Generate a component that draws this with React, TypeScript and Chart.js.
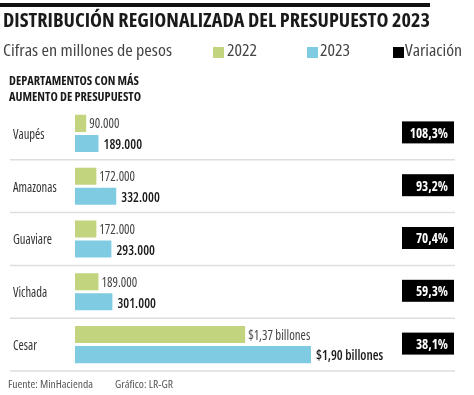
import React, { useEffect, useLayoutEffect, useRef } from "react";
import { Chart, registerables } from "chart.js";

Chart.register(...registerables);

const categories = ["Vaupés", "Amazonas", "Guaviare", "Vichada", "Cesar"];
const values2022 = [90000, 172000, 172000, 189000, 1370000];
const values2023 = [189000, 332000, 293000, 301000, 1900000];
const labels2022 = ["90.000", "172.000", "172.000", "189.000", "$1,37 billones"];
const labels2023 = ["189.000", "332.000", "293.000", "301.000", "$1,90 billones"];
const variation = ["108,3%", "93,2%", "70,4%", "59,3%", "38,1%"];
const xMax = 2000000;

const GREEN = "#c2d47e";
const CYAN = "#7ecbe2";
const FAMILY = "'Open Sans', 'Noto Sans', sans-serif";

type TxtProps = {
  x: number;
  base: number;
  size: number;
  weight?: number;
  stretch?: string;
  color?: string;
  width?: number;
  children: React.ReactNode;
};

function Txt({ x, base, size, weight = 400, stretch = "75%", color = "#222", width, children }: TxtProps) {
  const ref = useRef<HTMLSpanElement>(null);
  useLayoutEffect(() => {
    const el = ref.current;
    if (!el || !width) return;
    el.style.transform = "none";
    const w = el.getBoundingClientRect().width;
    if (w > 0) el.style.transform = `scaleX(${width / w})`;
  }, [width, children]);
  return (
    <span
      ref={ref}
      style={{
        position: "absolute",
        left: x,
        top: base - 1.069 * size,
        fontFamily: FAMILY,
        fontSize: size,
        lineHeight: 1.362,
        fontWeight: weight,
        fontStretch: stretch,
        color,
        whiteSpace: "nowrap",
        transformOrigin: "0 0",
        display: "inline-block",
      }}
    >
      {children}
    </span>
  );
}

function drawText(
  ctx: CanvasRenderingContext2D,
  text: string,
  x: number,
  y: number,
  size: number,
  weight: number,
  color: string,
  align: CanvasTextAlign = "left",
  sx = 1
) {
  ctx.save();
  ctx.font = `${weight} condensed ${size}px ${FAMILY}`;
  try {
    (ctx as any).fontStretch = "condensed";
  } catch (e) {}
  ctx.fillStyle = color;
  ctx.textAlign = align;
  ctx.textBaseline = "alphabetic";
  ctx.translate(x, y + 0.357 * size);
  ctx.scale(sx, 1);
  ctx.fillText(text, 0, 0);
  ctx.restore();
}

const annotate = {
  id: "annotate",
  afterDatasetsDraw(chart: any) {
    const ctx: CanvasRenderingContext2D = chart.ctx;
    const y = chart.scales.y;
    const band = y.getPixelForValue(1) - y.getPixelForValue(0);
    const m0 = chart.getDatasetMeta(0);
    const m1 = chart.getDatasetMeta(1);
    categories.forEach((cat, i) => {
      const cy = y.getPixelForValue(i);
      // separator
      ctx.save();
      ctx.strokeStyle = "#dedede";
      ctx.lineWidth = 1.5;
      ctx.beginPath();
      ctx.moveTo(10, cy + band / 2);
      ctx.lineTo(455, cy + band / 2);
      ctx.stroke();
      ctx.restore();
      // category label
      drawText(ctx, cat, 13, cy + 0.5, 14, 400, "#333", "left", 0.9);
      // values
      const b0 = m0.data[i];
      const b1 = m1.data[i];
      drawText(ctx, labels2022[i], b0.x + 3, b0.y, 14, 400, "#444", "left", 0.92);
      drawText(ctx, labels2023[i], b1.x + 5, b1.y + 0.5, 15, 600, "#1a1a1a", "left", 0.88);
      // variation box
      ctx.save();
      ctx.fillStyle = "#000";
      ctx.fillRect(402, cy - 12, 52, 22);
      ctx.restore();
      drawText(ctx, variation[i], 448, cy - 1, 15, 700, "#fff", "right", 0.88);
    });
  },
};

export default function App() {
  const canvasRef = useRef<HTMLCanvasElement>(null);

  useEffect(() => {
    document.body.style.margin = "0";
    const canvas = canvasRef.current;
    if (!canvas) return;
    const chart = new Chart(canvas, {
      type: "bar",
      data: {
        labels: categories,
        datasets: [
          {
            label: "2022",
            data: values2022,
            backgroundColor: GREEN,
            categoryPercentage: 0.76,
            barPercentage: 0.85,
          },
          {
            label: "2023",
            data: values2023,
            backgroundColor: CYAN,
            categoryPercentage: 0.76,
            barPercentage: 0.85,
          },
        ],
      },
      options: {
        indexAxis: "y",
        responsive: false,
        animation: false,
        devicePixelRatio: 1,
        layout: { padding: { top: 107, bottom: 24, left: 13, right: 150.6 } },
        plugins: { legend: { display: false }, tooltip: { enabled: false } },
        scales: {
          x: { display: false, min: 0, max: xMax },
          y: {
            grid: { display: false },
            border: { display: false },
            ticks: { display: false },
            afterFit: (s: any) => {
              s.width = 62;
            },
          },
        },
      },
      plugins: [annotate],
    });
    return () => chart.destroy();
  }, []);

  return (
    <div style={{ position: "relative", width: 474, height: 395, background: "#fff", overflow: "hidden" }}>
      <canvas ref={canvasRef} width={474} height={395} style={{ position: "absolute", left: 0, top: 0 }} />
      <div style={{ position: "absolute", left: 0, top: 3, width: 430, height: 3.5, background: "#111" }} />
      <Txt x={3} base={28.5} size={19} weight={700} color="#1a1a1a" width={427}>
        DISTRIBUCIÓN REGIONALIZADA DEL PRESUPUESTO 2023
      </Txt>
      <Txt x={3} base={57} size={15.5} stretch="87.5%" color="#444" width={169}>
        Cifras en millones de pesos
      </Txt>
      <div style={{ position: "absolute", left: 213, top: 47, width: 11, height: 11, background: GREEN }} />
      <Txt x={227} base={57} size={15.5} stretch="87.5%" color="#444" width={30}>
        2022
      </Txt>
      <div style={{ position: "absolute", left: 307, top: 47, width: 11, height: 11, background: CYAN }} />
      <Txt x={320} base={57} size={15.5} stretch="87.5%" color="#444" width={30}>
        2023
      </Txt>
      <div style={{ position: "absolute", left: 393, top: 47, width: 11, height: 11, background: "#000" }} />
      <Txt x={405} base={57} size={15.5} stretch="87.5%" color="#444" width={57}>
        Variación
      </Txt>
      <Txt x={9} base={85.5} size={12} weight={700} color="#1a1a1a" width={130}>
        DEPARTAMENTOS CON MÁS
      </Txt>
      <Txt x={9} base={101.5} size={12} weight={700} color="#1a1a1a" width={132}>
        AUMENTO DE PRESUPUESTO
      </Txt>
      <Txt x={7.5} base={388.5} size={10} stretch="87.5%" color="#555" width={85}>
        Fuente: MinHacienda
      </Txt>
      <Txt x={115} base={388.5} size={10} stretch="87.5%" color="#555" width={58}>
        Gráfico: LR-GR
      </Txt>
    </div>
  );
}
